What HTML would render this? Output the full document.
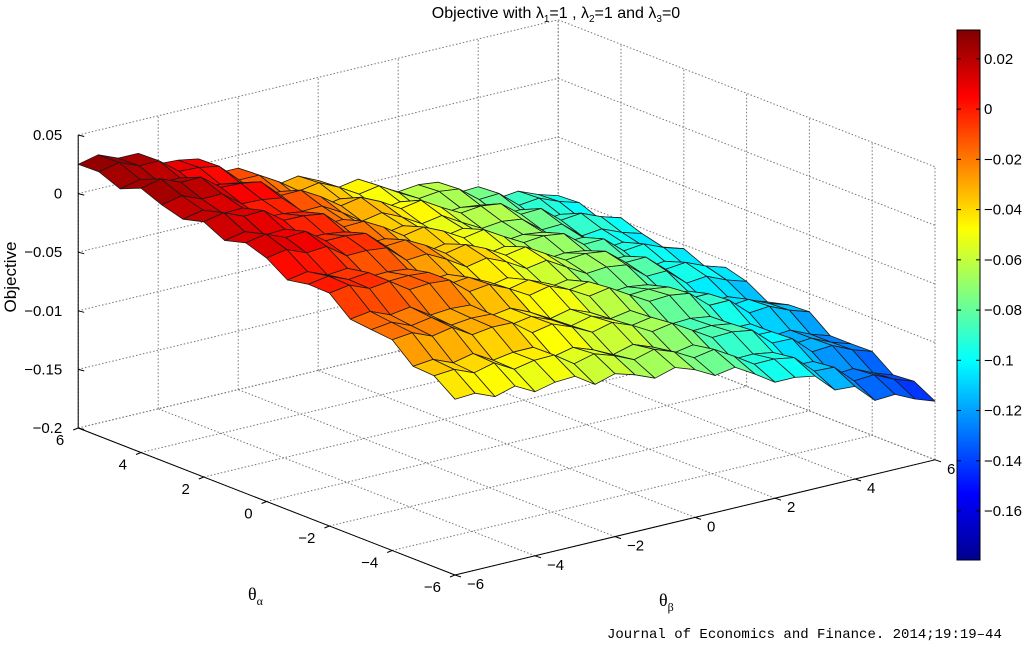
<!DOCTYPE html>
<html><head><meta charset="utf-8"><style>
html,body{margin:0;padding:0;background:#fff;}
body{width:1024px;height:655px;overflow:hidden;position:relative;font-family:"Liberation Sans",sans-serif;}
svg{position:absolute;left:0;top:0;}
</style></head><body>
<svg id="chart" width="1024" height="655" viewBox="0 0 1024 655">
<defs><linearGradient id="jet" x1="0" y1="1" x2="0" y2="0">
<stop offset="0" stop-color="#00008f"/><stop offset="0.125" stop-color="#0000ff"/><stop offset="0.375" stop-color="#00ffff"/>
<stop offset="0.625" stop-color="#ffff00"/><stop offset="0.875" stop-color="#ff0000"/><stop offset="1" stop-color="#800000"/></linearGradient></defs>
<g id="grid"></g>
<g id="surf"></g>
<g id="axes"></g>
<text x="556" y="18" font-size="16" text-anchor="middle">Objective with λ<tspan font-size="10" dy="4">1</tspan><tspan dy="-4">=1 , λ</tspan><tspan font-size="10" dy="4">2</tspan><tspan dy="-4">=1 and λ</tspan><tspan font-size="10" dy="4">3</tspan><tspan dy="-4">=0</tspan></text>
<text x="16" y="277" font-size="17" text-anchor="middle" transform="rotate(-90 16 277)">Objective</text>
<text x="248" y="600" font-size="18" font-family="Liberation Serif,serif">θ<tspan font-size="12" dy="5">α</tspan></text>
<text x="659" y="606" font-size="18" font-family="Liberation Serif,serif">θ<tspan font-size="12" dy="5">β</tspan></text>
<rect x="957" y="30" width="23" height="530" fill="url(#jet)" stroke="#000" stroke-width="1"/>
<g id="cbar"></g>
<text x="607" y="638" font-size="14" font-family="Liberation Mono,monospace">Journal of Economics and Finance. 2014;19:19–44</text>
</svg>
<script>
const zTicks=[0.05,0,-0.05,-0.1,-0.15,-0.2];
const zTickLabels=["0.05","0","−0.05","−0.01","−0.15","−0.2"];
const aTicks=[6,4,2,0,-2,-4,-6];
const bTicks=[-6,-4,-2,0,2,4,6];
const cbTicks=[0.02,0,-0.02,-0.04,-0.06,-0.08,-0.1,-0.12,-0.14,-0.16];
const cbLabels=["0.02","0","−0.02","−0.04","−0.06","−0.08","−0.1","−0.12","−0.14","−0.16"];
// surface profile along θβ at θα=6 (back) and θα=-6 (front)
const zBack=[0.025,0.026,0.024,0.018,0.012,0.006,0.0,-0.007,-0.014,-0.021,-0.028,-0.034,-0.04,-0.045,-0.05,-0.055,-0.06,-0.065,-0.07,-0.075,-0.08,-0.085,-0.09,-0.095,-0.1];
const zFront=[-0.05,-0.052,-0.054,-0.055,-0.057,-0.058,-0.06,-0.062,-0.064,-0.066,-0.068,-0.072,-0.076,-0.08,-0.085,-0.09,-0.097,-0.104,-0.11,-0.118,-0.125,-0.132,-0.138,-0.144,-0.15];
// blend weight from front (0) to back (1) along θα
const aProfile=[0,0.12,0.23,0.33,0.42,0.5,0.57,0.63,0.68,0.73,0.77,0.81,0.85,0.88,0.91,0.94,0.96,0.98,1];
const bumpA=[0,0.004,-0.003,0.005,0,-0.004,0.006,0.002,-0.005,0.003,0.006,-0.002,0.004,-0.003,0,0.005,-0.004,0.002,0];
const bumpB=[0,0.003,-0.002,0.004,-0.003,0.002,0.005,-0.004,0.003,0,-0.005,0.004,0.002,-0.003,0.005,0,-0.004,0.003,0.006,-0.002,0.004,-0.005,0.002,0,0];
const cMin=-0.1795,cMax=0.0315;
const NS='http://www.w3.org/2000/svg';
function P(a,b,z){return [455-(a+6)*31.4+(b+6)*40, 575-(a+6)*12.25-(b+6)*9.6-(z+0.2)*1172];}
function el(t,attrs,parent){const e=document.createElementNS(NS,t);for(const k in attrs)e.setAttribute(k,attrs[k]);parent.appendChild(e);return e;}
function jet(v){let t=(v-cMin)/(cMax-cMin);t=Math.max(0,Math.min(1,t));
 const f=x=>Math.max(0,Math.min(1,x));
 const r=f(1.5-Math.abs(4*t-3)),g=f(1.5-Math.abs(4*t-2)),b=f(1.5-Math.abs(4*t-1));
 return `rgb(${Math.round(r*255)},${Math.round(g*255)},${Math.round(b*255)})`;}
const grid=document.getElementById('grid');
function line(p,q,parent,dash,name,w){const l=el('line',{x1:p[0],y1:p[1],x2:q[0],y2:q[1],stroke:dash?'#777':'#000','stroke-width':w||1},parent);if(dash)l.setAttribute('stroke-dasharray','1.5,2');
 
 return l;}
aTicks.forEach(a=>line(P(a,-6,-0.2),P(a,6,-0.2),grid,true,'floor-grid-line'));
bTicks.forEach(b=>line(P(-6,b,-0.2),P(6,b,-0.2),grid,true,'floor-grid-line'));
zTicks.forEach(z=>{line(P(6,-6,z),P(6,6,z),grid,true,'wall-grid-line');line(P(6,6,z),P(-6,6,z),grid,true,'wall-grid-line');});
bTicks.forEach(b=>line(P(6,b,-0.2),P(6,b,0.05),grid,true,'wall-grid-line'));
aTicks.forEach(a=>line(P(a,6,-0.2),P(a,6,0.05),grid,true,'wall-grid-line'));
const na=bumpA.length,nb=zBack.length;
function Z(i,j){const t=aProfile[i];return zFront[j]*(1-t)+zBack[j]*t+bumpA[i]+bumpB[j];}
function A(i){return -6+12*i/(na-1);} function B(j){return -6+12*j/(nb-1);}
const faces=[];
for(let i=0;i<na-1;i++)for(let j=0;j<nb-1;j++){
 const pts=[[i,j],[i+1,j],[i+1,j+1],[i,j+1]];
 const zs=pts.map(p=>Z(p[0],p[1]));
 const avg=zs.reduce((s,v)=>s+v,0)/4;
 const depth=(A(i)+A(i+1))/2*12.25+(B(j)+B(j+1))/2*9.6;
 faces.push({pts,zs,avg,depth});}
faces.sort((f,g)=>g.depth-f.depth);
const surf=document.getElementById('surf');
faces.forEach(f=>{const s=f.pts.map((p,k)=>P(A(p[0]),B(p[1]),f.zs[k]).map(v=>v.toFixed(1)).join(',')).join(' ');
 const pg=el('polygon',{points:s,fill:jet(f.avg),stroke:'#1a1a1a','stroke-width':0.8,'stroke-linejoin':'round'},surf);
 
 });
const ax=document.getElementById('axes');
line(P(6,-6,-0.2),P(6,-6,0.05),ax,false,'z-axis-line');
line(P(6,-6,-0.2),P(-6,-6,-0.2),ax,false,'theta-alpha-axis-line');
line(P(-6,-6,-0.2),P(-6,6,-0.2),ax,false,'theta-beta-axis-line');
function txt(x,y,s,anchor,size,name){const t=el('text',{x:x,y:y,'font-size':size||15,'text-anchor':anchor},ax);t.textContent=s;
 
 }
zTicks.forEach((z,k)=>{const p=P(6,-6,z);line(p,[p[0]+6,p[1]+1.5],ax,false,'z-tick');txt(p[0]-16,p[1]+5,zTickLabels[k],'end',15,'z-tick-label');});
aTicks.forEach(a=>{const p=P(a,-6,-0.2);line(p,[p[0]-5,p[1]+2],ax,false,'theta-alpha-tick');txt(p[0]-14,p[1]+17,a<0?'−'+(-a):String(a),'end',15,'theta-alpha-tick-label');});
bTicks.forEach(b=>{const p=P(-6,b,-0.2);line(p,[p[0]+6,p[1]+2],ax,false,'theta-beta-tick');txt(p[0]+12,p[1]+14,b<0?'−'+(-b):String(b),'start',15,'theta-beta-tick-label');});
const cb=document.getElementById('cbar');
cbTicks.forEach((v,k)=>{const y=560-(v-cMin)/(cMax-cMin)*530;
 line([957,y],[961,y],cb,false,'colorbar-tick');line([976,y],[980,y],cb,false,'colorbar-tick');
 const t=el('text',{x:984,y:y+5,'font-size':15},cb);t.textContent=cbLabels[k];
 
 });
</script>
</body></html>
